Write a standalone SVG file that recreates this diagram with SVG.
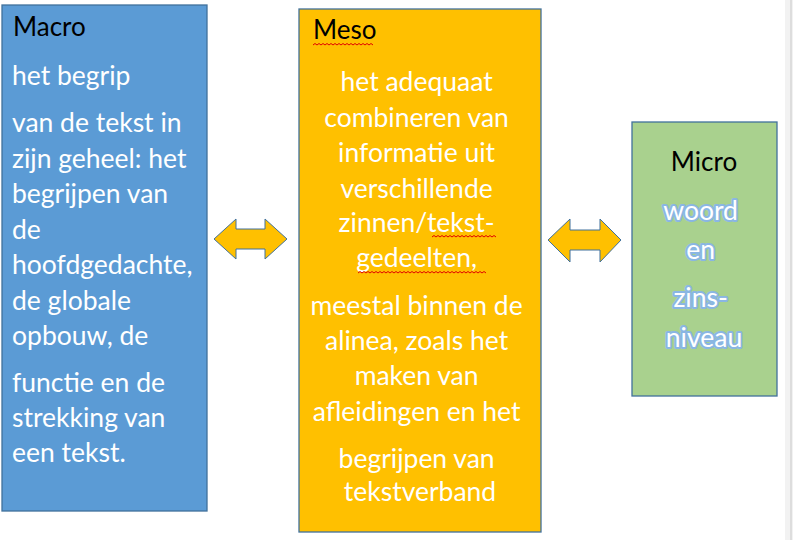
<svg xmlns="http://www.w3.org/2000/svg" width="793" height="540" viewBox="0 0 793 540">
<defs>
<style>
.box{stroke:#41719c;stroke-width:1.3}
.head{font-family:Lato,"Noto Sans",sans-serif;font-size:26px;fill:#000}
.body{font-family:Lato,"Noto Sans",sans-serif;font-size:26.5px;fill:#fff}
.mid{text-anchor:middle}
.micro{font-family:Lato,"Noto Sans",sans-serif;font-size:26.5px;fill:#fff;stroke:#8ab6e3;stroke-width:4;stroke-linejoin:round;paint-order:stroke;text-anchor:middle}
.arrow{fill:#ffc000;stroke:#41719c;stroke-width:1}
.sq{fill:none;stroke:#e00000;stroke-width:1}
</style>
</defs>
<rect width="793" height="540" fill="#fff"/>
<rect x="785" y="0" width="8" height="540" fill="#f2f2f2"/>
<line x1="791" y1="0" x2="791" y2="540" stroke="#c8c8c8" stroke-width="1"/>

<g id="macro">
<rect class="box" x="2" y="5" width="205" height="506" fill="#5b9bd5"/>
<text class="head" x="13" y="36">Macro</text>
<text class="body" x="12">
<tspan x="12" y="85">het begrip</tspan>
<tspan x="12" y="132">van de tekst in</tspan>
<tspan x="12" y="168">zijn geheel: het</tspan>
<tspan x="12" y="203">begrijpen van</tspan>
<tspan x="12" y="239">de</tspan>
<tspan x="12" y="274">hoofdgedachte,</tspan>
<tspan x="12" y="310">de globale</tspan>
<tspan x="12" y="345">opbouw, de</tspan>
<tspan x="12" y="392">functie en de</tspan>
<tspan x="12" y="427">strekking van</tspan>
<tspan x="12" y="462">een tekst.</tspan>
</text>
</g>

<g id="meso">
<rect class="box" x="299" y="9" width="242" height="523" fill="#ffc000"/>
<text class="head" x="313" y="39">Meso</text>
<text class="body mid">
<tspan x="420" y="91">het adequaat</tspan>
<tspan x="420" y="127">combineren van</tspan>
<tspan x="420" y="162">informatie uit</tspan>
<tspan x="420" y="198">verschillende</tspan>
<tspan x="420" y="232">zinnen/tekst-</tspan>
<tspan x="420" y="267">gedeelten,</tspan>
<tspan x="420" y="315">meestal binnen de</tspan>
<tspan x="420" y="350">alinea, zoals het</tspan>
<tspan x="420" y="385">maken van</tspan>
<tspan x="420" y="421">afleidingen en het</tspan>
<tspan x="420" y="468">begrijpen van</tspan>
<tspan x="420" y="501">tekstverband</tspan>
</text>
<path class="sq" d="M313 45 l2 -1.5 l2 1.5 l2 -1.5 l2 1.5 l2 -1.5 l2 1.5 l2 -1.5 l2 1.5 l2 -1.5 l2 1.5 l2 -1.5 l2 1.5 l2 -1.5 l2 1.5 l2 -1.5 l2 1.5 l2 -1.5 l2 1.5 l2 -1.5 l2 1.5 l2 -1.5 l2 1.5 l2 -1.5 l2 1.5 l2 -1.5 l2 1.5 l2 -1.5 l2 1.5 l2 -1.5 l2 1.5"/>
<path class="sq" d="M432 237 l2 -1.5 l2 1.5 l2 -1.5 l2 1.5 l2 -1.5 l2 1.5 l2 -1.5 l2 1.5 l2 -1.5 l2 1.5 l2 -1.5 l2 1.5 l2 -1.5 l2 1.5 l2 -1.5 l2 1.5 l2 -1.5 l2 1.5 l2 -1.5 l2 1.5 l2 -1.5 l2 1.5 l2 -1.5 l2 1.5 l2 -1.5 l2 1.5 l2 -1.5 l2 1.5 l2 -1.5 l2 1.5 l2 -1.5 l2 1.5"/>
<path class="sq" d="M358 273 l2 -1.5 l2 1.5 l2 -1.5 l2 1.5 l2 -1.5 l2 1.5 l2 -1.5 l2 1.5 l2 -1.5 l2 1.5 l2 -1.5 l2 1.5 l2 -1.5 l2 1.5 l2 -1.5 l2 1.5 l2 -1.5 l2 1.5 l2 -1.5 l2 1.5 l2 -1.5 l2 1.5 l2 -1.5 l2 1.5 l2 -1.5 l2 1.5 l2 -1.5 l2 1.5 l2 -1.5 l2 1.5 l2 -1.5 l2 1.5 l2 -1.5 l2 1.5 l2 -1.5 l2 1.5 l2 -1.5 l2 1.5 l2 -1.5 l2 1.5 l2 -1.5 l2 1.5 l2 -1.5 l2 1.5 l2 -1.5 l2 1.5 l2 -1.5 l2 1.5 l2 -1.5 l2 1.5 l2 -1.5 l2 1.5 l2 -1.5 l2 1.5 l2 -1.5 l2 1.5 l2 -1.5 l2 1.5 l2 -1.5 l2 1.5 l2 -1.5 l2 1.5 l2 -1.5 l2 1.5"/>
</g>

<g id="micro">
<rect class="box" x="632" y="122" width="145" height="274" fill="#a9d18e"/>
<text class="head mid" x="704" y="171">Micro</text>
<text class="micro">
<tspan x="704" y="220">woord</tspan>
<tspan x="704" y="259">en</tspan>
<tspan x="704" y="307">zins-</tspan>
<tspan x="704" y="347">niveau</tspan>
</text>
</g>

<g id="connectors">
<path class="arrow" d="M214 239 L236 219 L236 229 L265 229 L265 219 L287 239 L265 259 L265 249 L236 249 L236 259 Z"/>
<path class="arrow" d="M548 240 L570 219 L570 230 L600 230 L600 219 L621 240 L600 262 L600 250 L570 250 L570 262 Z"/>
</g>
</svg>
